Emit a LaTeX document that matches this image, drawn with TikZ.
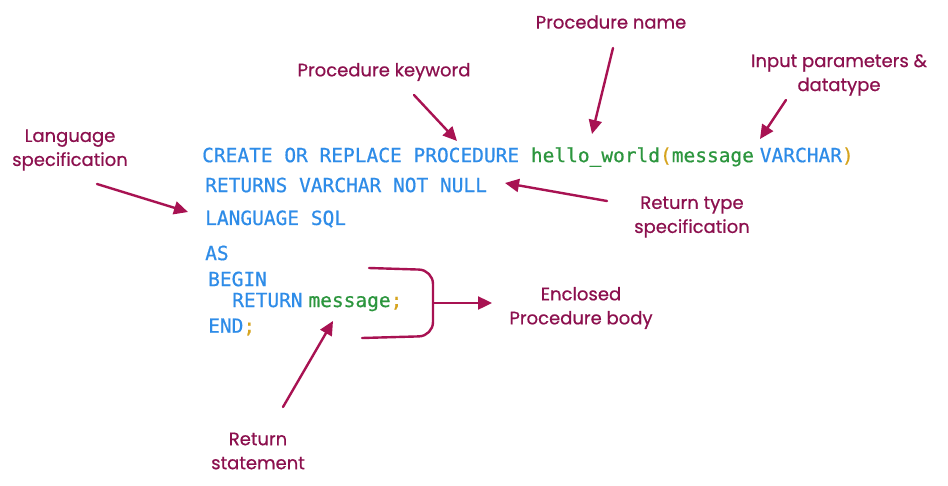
\documentclass[tikz,border=0pt]{standalone}
\usepackage{fontspec}
\usetikzlibrary{arrows.meta}
\newfontfamily\codefont[FakeBold=0.6]{DejaVu Sans Mono}
\newfontfamily\annfont[FakeBold=0.6]{Poppins}
\definecolor{kw}{RGB}{46,140,232}
\definecolor{idn}{RGB}{44,150,62}
\definecolor{pun}{RGB}{214,164,30}
\definecolor{ann}{RGB}{140,16,78}
\definecolor{arr}{RGB}{168,18,82}
\tikzset{
  code/.style={anchor=west, inner sep=0pt, font=\codefont\fontsize{19.5}{22}\selectfont, text=kw},
  note/.style={align=center, inner sep=0pt, font=\annfont\fontsize{18}{24}\selectfont, text=ann},
  pointer/.style={draw=arr, line width=2.4pt, line cap=round, -{Triangle[length=14pt,width=13pt]}},
  bracket/.style={draw=arr, line width=2.4pt, line cap=round, rounded corners=14pt},
}
\begin{document}
\begin{tikzpicture}[x=1pt,y=-1pt]
\useasboundingbox[fill=white] (0,0) rectangle (948,485);
% code
\node[code] (l1) at (202,157) {CREATE OR REPLACE PROCEDURE \textcolor{idn}{hello\_world}\textcolor{pun}{(}\textcolor{idn}{message}\hspace{0.3em}VARCHAR\textcolor{pun}{)}};
\node[code] (l2) at (205,185) {RETURNS VARCHAR NOT NULL};
\node[code] (l3) at (205,219) {LANGUAGE SQL};
\node[code] (l4) at (205,253) {AS};
\node[code] (l5) at (208,279) {BEGIN};
\node[code] (l6) at (232,302) {RETURN\hspace{0.3em}\textcolor{idn}{message}\textcolor{pun}{;}};
\node[code] (l7) at (208,327) {END\textcolor{pun}{;}};
% annotations
\node[note] (pname) at (611,22) {Procedure name};
\node[note] (pkey) at (384,72) {Procedure keyword};
\node[note] (inp) at (839,75) {Input parameters \&\\datatype};
\node[note] (lang) at (70,150) {Language\\specification};
\node[note] (rtype) at (692,217) {Return type\\specification};
\node[note] (encl) at (581,308) {Enclosed\\Procedure body};
\node[note] (rstmt) at (258,451) {Return\\statement};
% arrow ends
\coordinate (pnameS) at (613,48);  \coordinate (pnameE) at (592,134);
\coordinate (pkeyS) at (414,95);   \coordinate (pkeyE) at (457,141);
\coordinate (inpS) at (786,100);   \coordinate (inpE) at (760,139);
\coordinate (langS) at (97,184);   \coordinate (langE) at (188,212);
\coordinate (rtypeS) at (607,201); \coordinate (rtypeE) at (505,183);
\coordinate (enclS) at (434,303);  \coordinate (enclE) at (492,303);
\coordinate (rstmtS) at (283,407); \coordinate (rstmtE) at (333,321);
\coordinate (brA) at (369,268); \coordinate (brB) at (433,270);
\coordinate (brC) at (433,336); \coordinate (brD) at (362,338);
\draw[pointer] (pnameS) -- (pnameE);
\draw[pointer] (pkeyS) -- (pkeyE);
\draw[pointer] (inpS) -- (inpE);
\draw[pointer] (langS) -- (langE);
\draw[pointer] (rtypeS) -- (rtypeE);
\draw[pointer] (enclS) -- (enclE);
\draw[pointer] (rstmtS) -- (rstmtE);
\draw[bracket] (brA) -- (brB) -- (brC) -- (brD);
\end{tikzpicture}
\end{document}
